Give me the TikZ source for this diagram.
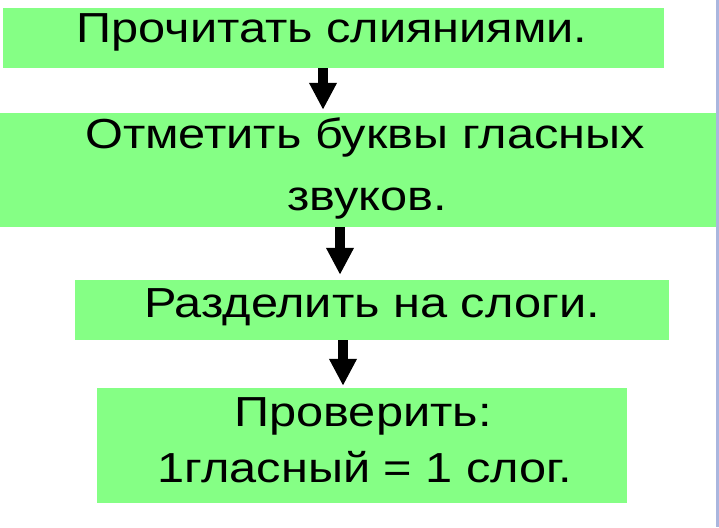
\documentclass[tikz,border=0pt]{standalone}
\usepackage{fontspec}
\setmainfont{Liberation Sans}
\usetikzlibrary{arrows.meta}
\definecolor{boxgreen}{RGB}{133,255,133}
\definecolor{edgeblue}{RGB}{170,182,222}
\newcommand\widetext[1]{\scalebox{1.16}[1]{#1}}
\tikzset{
  box/.style={fill=boxgreen, draw=none, inner sep=0pt, rectangle},
  txt/.style={anchor=base, inner sep=0pt, font=\fontsize{42}{42}\selectfont},
  arr/.style={line width=9.5pt, -{Triangle[width=26pt,length=27pt]}, black}
}
\begin{document}
\begin{tikzpicture}[x=1pt,y=-1pt]
\useasboundingbox (0,0) rectangle (719,527);
\fill[white] (0,0) rectangle (719,527);
\fill[edgeblue] (716,0) rectangle (719,527);
% boxes
\node[box, minimum width=661pt, minimum height=60pt] (b1) at (333.5,38) {};
\node[box, minimum width=716pt, minimum height=114pt] (b2) at (358,170) {};
\node[box, minimum width=594pt, minimum height=60pt] (b3) at (372,310) {};
\node[box, minimum width=530pt, minimum height=115pt] (b4) at (362,445.5) {};
% texts
\node[txt] (t1) at (332,42) {\widetext{Прочитать слияниями.}};
\node[txt] (t2a) at (365,148) {\widetext{Отметить буквы гласных}};
\node[txt] (t2b) at (367,210) {\widetext{звуков.}};
\node[txt] (t3) at (372,317) {\widetext{Разделить на слоги.}};
\node[txt] (t4a) at (363,426) {\widetext{Проверить:}};
\node[txt] (t4b) at (365,482) {\widetext{1гласный = 1 слог.}};
% arrows
\coordinate (x1) at (323,0);
\coordinate (x2) at (340,0);
\coordinate (x3) at (343,0);
\draw[arr, shorten >=3pt] (b1.south -| x1) -- (b2.north -| x1);
\draw[arr, shorten >=5pt] (b2.south -| x2) -- (b3.north -| x2);
\draw[arr, shorten >=2pt] (b3.south -| x3) -- (b4.north -| x3);
\end{tikzpicture}
\end{document}
